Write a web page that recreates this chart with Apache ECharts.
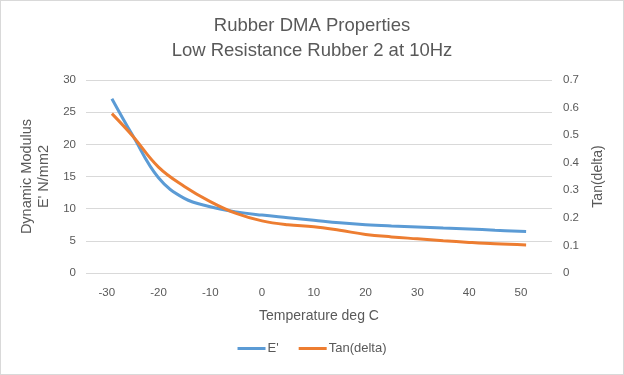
<!DOCTYPE html>
<html>
<head>
<meta charset="utf-8">
<title>Rubber DMA Properties</title>
<style>
  html, body { margin: 0; padding: 0; background: #fff; overflow: hidden; }
  #chart { width: 622px; height: 373px; border: 1px solid #d9d9d9; }
</style>
</head>
<body>
<div id="chart"></div>
<script src="https://cdn.jsdelivr.net/npm/echarts@6/dist/echarts.min.js"></script>
<script>
// temperature in deg C
var temps = [-29, -25, -20, -15, -10, -5, 0, 5, 10, 15, 20, 25, 30, 35, 40, 45, 51];
// dynamic modulus E' (N/mm2)
var modulus = [27.1, 21.4, 14.8, 11.6, 10.3, 9.5, 9.0, 8.6, 8.2, 7.8, 7.5, 7.3, 7.15, 7.0, 6.85, 6.65, 6.45];
// tan(delta)
var tanDelta = [0.578, 0.497, 0.384, 0.314, 0.259, 0.216, 0.189, 0.175, 0.168, 0.155, 0.140, 0.131, 0.124, 0.117, 0.111, 0.106, 0.102];
var xTicks = [-30, -20, -10, 0, 10, 20, 30, 40, 50];

var font = 'Liberation Sans';
var txt = '#595959';

function pairs(xs, ys) {
  return xs.map(function (x, i) { return [x, ys[i]]; });
}

var chart = echarts.init(document.getElementById('chart'));
chart.setOption({
  animation: false,
  textStyle: { fontFamily: font, color: txt },
  title: {
    text: 'Rubber DMA Properties\nLow Resistance Rubber 2 at 10Hz',
    left: 'center',
    top: 7,
    textStyle: { fontFamily: font, fontSize: 18.5, fontWeight: 'normal', color: txt, lineHeight: 25 }
  },
  legend: {
    bottom: 14,
    left: 'center',
    itemWidth: 28,
    itemHeight: 3,
    itemGap: 20,
    icon: 'rect',
    textStyle: { fontFamily: font, fontSize: 13, color: txt, padding: [0, 0, 0, -3] },
    data: ["E'", 'Tan(delta)']
  },
  grid: { left: 85, right: 71, top: 79, bottom: 101 },
  xAxis: {
    type: 'value',
    min: -34,
    max: 56,
    name: 'Temperature deg C',
    nameLocation: 'middle',
    nameGap: 36,
    nameTextStyle: { fontFamily: font, fontSize: 14, color: txt },
    axisLine: { show: false },
    axisTick: { show: false },
    splitLine: { show: false },
    axisLabel: { customValues: xTicks, fontFamily: font, fontSize: 11.5, color: txt, margin: 14 }
  },
  yAxis: [{
    type: 'value',
    min: 0,
    max: 30,
    interval: 5,
    name: "Dynamic Modulus\nE' N/mm2",
    nameLocation: 'middle',
    nameRotate: 90,
    nameGap: 31,
    nameTextStyle: { fontFamily: font, fontSize: 14.5, color: txt, lineHeight: 17 },
    axisLine: { show: false },
    axisTick: { show: false },
    splitLine: { lineStyle: { color: '#d9d9d9', width: 1 } },
    axisLabel: { fontFamily: font, fontSize: 11.5, color: txt, margin: 10 }
  }, {
    type: 'value',
    min: 0,
    max: 0.7,
    interval: 0.1,
    name: 'Tan(delta)',
    nameLocation: 'middle',
    nameRotate: 90,
    nameGap: 39,
    nameTextStyle: { fontFamily: font, fontSize: 14, color: txt },
    axisLine: { show: false },
    axisTick: { show: false },
    splitLine: { show: false },
    axisLabel: { fontFamily: font, fontSize: 11.5, color: txt, margin: 11 }
  }],
  series: [{
    name: "E'",
    type: 'line',
    yAxisIndex: 0,
    smooth: 0.4,
    showSymbol: false,
    lineStyle: { color: '#5b9bd5', width: 3 },
    itemStyle: { color: '#5b9bd5' },
    data: pairs(temps, modulus)
  }, {
    name: 'Tan(delta)',
    type: 'line',
    yAxisIndex: 1,
    smooth: 0.4,
    showSymbol: false,
    lineStyle: { color: '#ed7d31', width: 3 },
    itemStyle: { color: '#ed7d31' },
    data: pairs(temps, tanDelta)
  }]
});
</script>
</body>
</html>
